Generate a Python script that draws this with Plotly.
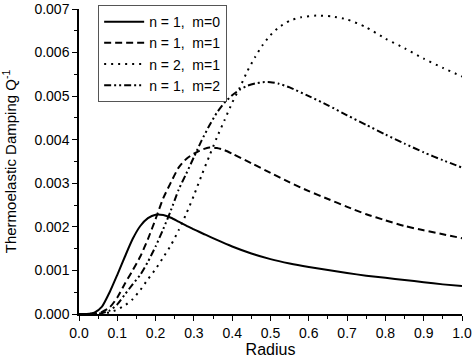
import plotly.graph_objects as go

# Radius values and Q^-1 values (in units of 1e-3)
x_n1m0 = [0, 0.02, 0.04, 0.06, 0.08, 0.10, 0.12, 0.14, 0.16, 0.18, 0.20, 0.22, 0.24, 0.26, 0.28,
          0.30, 0.33, 0.36, 0.40, 0.45, 0.50, 0.55, 0.60, 0.65, 0.70, 0.75, 0.80, 0.85, 0.90, 0.95, 1.0]
y_n1m0 = [0, 0.0, 0.03, 0.17, 0.50, 0.90, 1.32, 1.72, 2.02, 2.20, 2.28, 2.27, 2.21, 2.12, 2.03,
          1.94, 1.82, 1.70, 1.55, 1.39, 1.26, 1.16, 1.08, 1.01, 0.94, 0.88, 0.83, 0.78, 0.73, 0.68, 0.64]

x_n1m1 = [0, 0.02, 0.04, 0.06, 0.08, 0.10, 0.12, 0.14, 0.16, 0.18, 0.20, 0.22, 0.24, 0.26, 0.28,
          0.30, 0.32, 0.34, 0.36, 0.38, 0.40, 0.45, 0.50, 0.55, 0.60, 0.65, 0.70, 0.75, 0.80, 0.85,
          0.90, 0.95, 1.0]
y_n1m1 = [0, 0, 0.01, 0.05, 0.15, 0.38, 0.70, 1.00, 1.32, 1.72, 2.18, 2.66, 3.02, 3.36, 3.56,
          3.68, 3.77, 3.82, 3.81, 3.76, 3.68, 3.46, 3.24, 3.02, 2.82, 2.64, 2.46, 2.29, 2.15, 2.02,
          1.92, 1.83, 1.74]

x_n2m1 = [0, 0.04, 0.06, 0.08, 0.10, 0.12, 0.14, 0.16, 0.18, 0.20, 0.22, 0.24, 0.26, 0.28, 0.30,
          0.32, 0.34, 0.36, 0.38, 0.40, 0.42, 0.44, 0.46, 0.48, 0.50, 0.52, 0.55, 0.58, 0.62, 0.66,
          0.70, 0.75, 0.80, 0.85, 0.90, 0.95, 1.0]
y_n2m1 = [0, 0.0, 0.01, 0.04, 0.10, 0.20, 0.34, 0.55, 0.80, 1.03, 1.30, 1.58, 1.92, 2.30, 2.72,
          3.18, 3.62, 4.05, 4.45, 4.85, 5.20, 5.58, 5.90, 6.18, 6.40, 6.57, 6.73, 6.81, 6.85, 6.83,
          6.76, 6.58, 6.32, 6.10, 5.86, 5.65, 5.45]

x_n1m2 = [0, 0.04, 0.06, 0.08, 0.10, 0.12, 0.14, 0.16, 0.18, 0.20, 0.22, 0.24, 0.26, 0.28, 0.30,
          0.32, 0.34, 0.36, 0.38, 0.40, 0.42, 0.44, 0.46, 0.48, 0.50, 0.52, 0.55, 0.60, 0.65, 0.70,
          0.75, 0.80, 0.85, 0.90, 0.95, 1.0]
y_n1m2 = [0, 0.0, 0.02, 0.08, 0.22, 0.45, 0.68, 0.90, 1.20, 1.55, 1.95, 2.38, 2.85, 3.22, 3.60,
          3.98, 4.32, 4.62, 4.85, 5.02, 5.15, 5.24, 5.29, 5.32, 5.32, 5.29, 5.20, 5.00, 4.79, 4.56,
          4.34, 4.12, 3.91, 3.71, 3.53, 3.36]

names = ["n = 1,\u00a0 m=0", "n = 1,\u00a0 m=1", "n = 2,\u00a0 m=1", "n = 1,\u00a0 m=2"]
xs = [x_n1m0, x_n1m1, x_n2m1, x_n1m2]
ys = [y_n1m0, y_n1m1, y_n2m1, y_n1m2]
dashes = ["solid", "7px,4px", "2px,5px", "7px,3px,2px,3px,2px,3px"]

fig = go.Figure()
for x, y, name, d in zip(xs, ys, names, dashes):
    fig.add_trace(go.Scatter(
        x=x, y=[v / 1000 for v in y], name=name, mode="lines",
        line=dict(color="black", width=2, dash=d, shape="spline", smoothing=0.6),
    ))

font = dict(family="Liberation Sans, Arial, sans-serif", color="black", size=14)

fig.update_layout(
    width=474, height=361,
    margin=dict(l=79, r=12, t=5, b=47),
    paper_bgcolor="white", plot_bgcolor="white",
    font=font,
    showlegend=True,
    legend=dict(x=0.05, y=1.013, xanchor="left", yanchor="top",
                bgcolor="white", bordercolor="#555", borderwidth=1,
                font=dict(size=14), tracegroupgap=0, itemwidth=40),
    xaxis=dict(
        automargin=False,
        range=[0, 1.0], tickvals=[i / 10 for i in range(11)],
        tickformat=".1f", showgrid=False, zeroline=False,
        showline=True, linecolor="black", linewidth=1.5,
        ticks="outside", ticklen=5, tickwidth=1.3, tickcolor="black",
        minor=dict(ticks="outside", ticklen=3, tickwidth=1, tickcolor="black", dtick=0.05),
        title=dict(text="Radius", font=dict(size=16), standoff=3),
        tickfont=dict(size=14),
    ),
    yaxis=dict(
        automargin=False,
        range=[0, 0.007], tickvals=[i / 1000 for i in range(8)],
        tickformat=".3f", showgrid=False, zeroline=False,
        showline=True, linecolor="black", linewidth=1.5,
        ticks="outside", ticklen=5, tickwidth=1.3, tickcolor="black",
        minor=dict(ticks="outside", ticklen=3, tickwidth=1, tickcolor="black", dtick=0.0005),
        title=dict(text="Thermoelastic Damping Q<sup>-1</sup>", font=dict(size=15), standoff=18),
        tickfont=dict(size=14),
    ),
)

fig.write_html(
    "out.html",
    config={"displayModeBar": False},
    post_script="document.body.style.margin='0';document.body.style.overflow='hidden';",
)
